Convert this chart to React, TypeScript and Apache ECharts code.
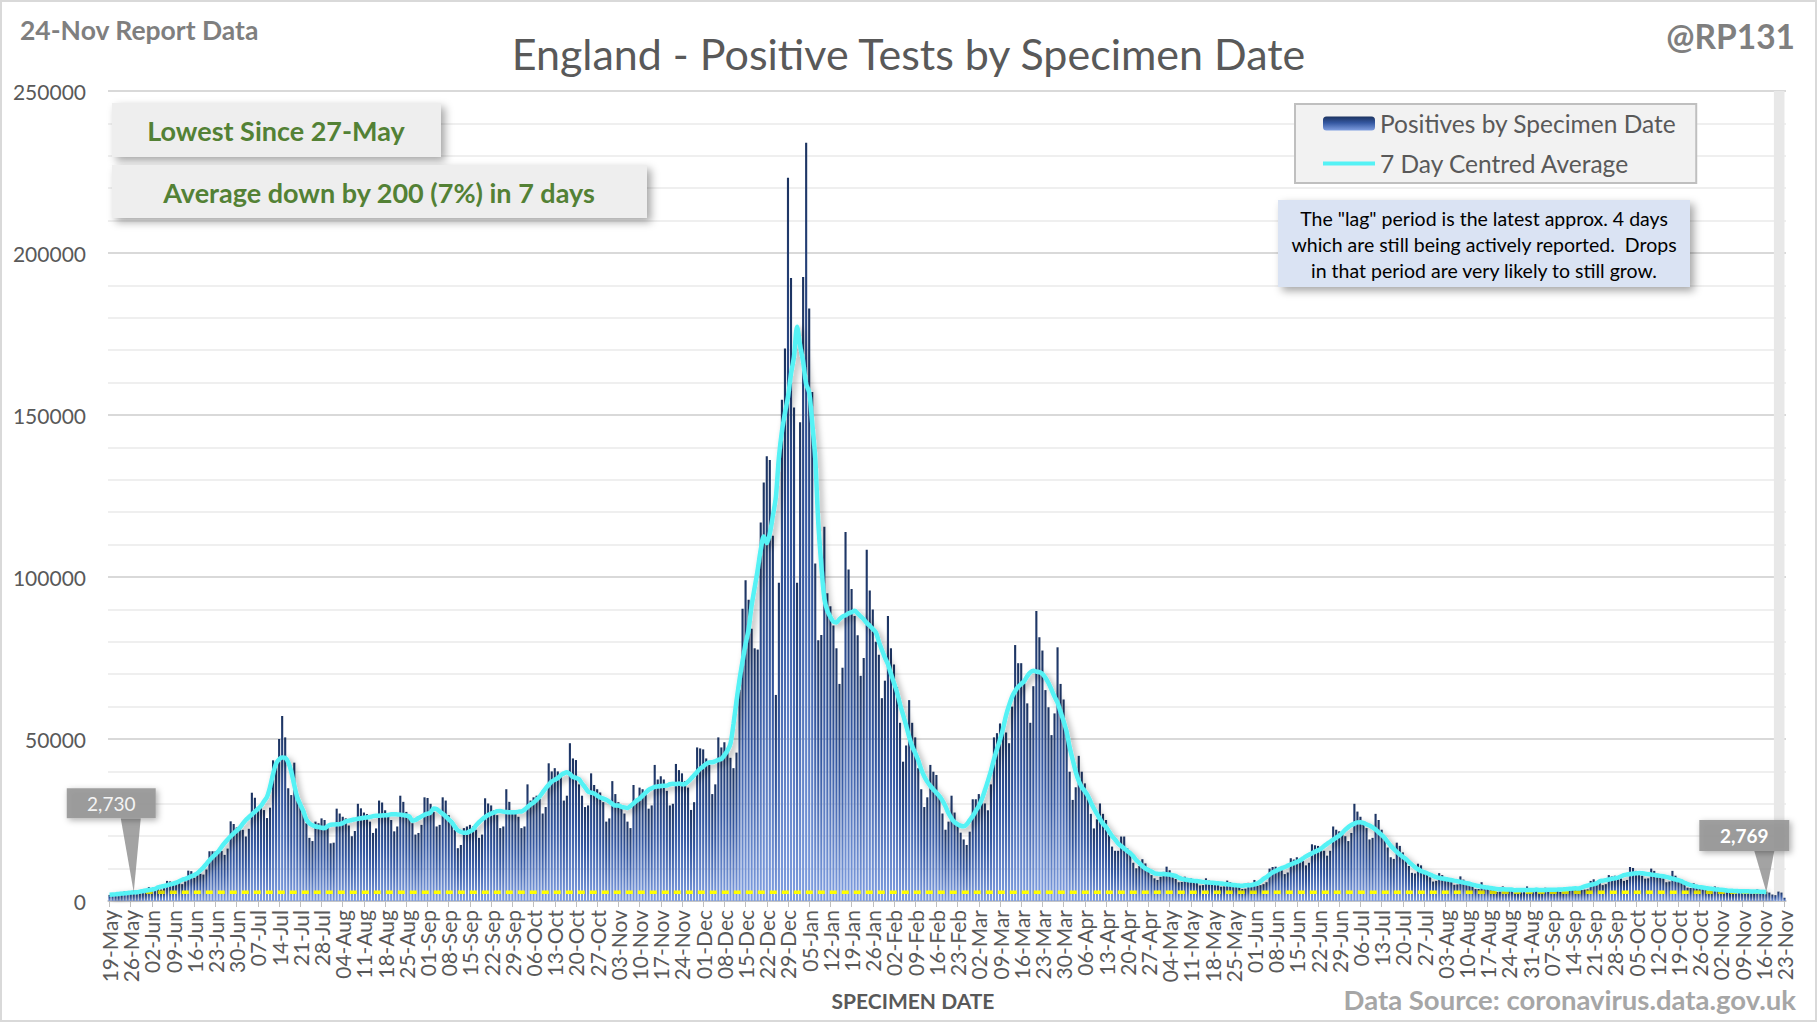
import React, { useEffect, useRef } from "react";
import * as echarts from "echarts";

// ---------- DATA ----------
const START_YEAR = 2021;
const START_MONTH = 4; // May (0-based)
const START_DAY = 19;
const MONTHS = ["Jan", "Feb", "Mar", "Apr", "May", "Jun", "Jul", "Aug", "Sep", "Oct", "Nov", "Dec"];

// 16-18 May 2021 (only used for the centred average of the first days)
const PRE_VALUES = [1700, 2300, 2200];

// Daily positives by specimen date, 19-May-2021 .. 23-Nov-2022 (weeks Wed..Tue)
const DAILY_POSITIVES = [
  1880, 1920, 1870, 1720, 1950, 3050, 2950,
  2500, 2620, 2600, 2420, 2880, 3000, 4300,
  3640, 3800, 3770, 3520, 4040, 6200, 6040,
  5120, 5450, 5500, 5200, 6040, 9370, 9210,
  7200, 8020, 8380, 8160, 9710, 15350, 15360,
  15350, 15770, 15440, 14240, 16180, 24590, 23760,
  22710, 22860, 21960, 19920, 22290, 33420, 31870,
  28580, 29000, 28060, 25600, 28810, 43420, 41630,
  50000, 57100, 50500, 34800, 32700, 42700, 32200,
  29600, 27600, 24000, 19500, 18500, 24500, 24000,
  25500, 25000, 23000, 17800, 18000, 28500, 27000,
  26000, 25500, 23300, 20000, 21600, 30000, 28600,
  27300, 26800, 24500, 21000, 22400, 31000, 30400,
  28000, 27000, 25000, 21500, 23000, 32500, 30600,
  27500, 26500, 24000, 20500, 21000, 23500, 32000,
  31800, 30000, 27500, 23000, 23500, 32000, 31000,
  26500, 25000, 22000, 16300, 17300, 22500, 23000,
  23500, 23000, 22000, 19500, 20500, 31700, 30100,
  29500, 28000, 26500, 22500, 23000, 34500, 30600,
  28000, 27000, 26000, 22500, 23000, 36000, 31000,
  32000, 32500, 31500, 27000, 29000, 42500, 40000,
  41000, 40000, 38500, 31000, 32500, 48700, 44000,
  43500, 36000, 32500, 29000, 29500, 39400, 35800,
  34500, 33500, 30500, 24500, 25500, 37000, 33000,
  30500, 29000, 27000, 24500, 22500, 35800, 31500,
  35000, 34500, 33000, 28500, 29500, 42000, 37500,
  38500, 37500, 34000, 29500, 30000, 42300, 40400,
  39400, 37000, 35000, 28100, 30500, 47400, 47100,
  46800, 44000, 42000, 33000, 36000, 50500, 47400,
  49000, 47000, 44200, 41000, 45800, 65200, 90200,
  99000, 93000, 84000, 78000, 77600, 116800, 129200,
  137300, 136100, 112700, 63600, 98200, 154700, 170500,
  223200, 192300, 152300, 98200, 147800, 192600, 234000,
  182900, 157100, 104200, 80500, 82100, 115500, 95000,
  91000, 85000, 78000, 67000, 72000, 113900, 102300,
  96300, 88000, 82000, 69500, 75000, 108400, 95800,
  90000, 80000, 76000, 62600, 68000, 88000, 78000,
  73000, 66000, 55000, 43000, 48000, 62000, 55000,
  50500, 41000, 34500, 29000, 32000, 42000, 39900,
  38900, 32200, 27000, 22000, 24500, 32500, 27300,
  24000, 21100, 19000, 17300, 21400, 31400, 31400,
  33000, 30100, 30100, 28000, 36000, 50500, 51800,
  54800, 55000, 52000, 48700, 60000, 79000, 73400,
  73400, 67200, 61000, 55000, 66300, 89500, 81400,
  77300, 65100, 59800, 51200, 57900, 78300, 67000,
  62200, 52000, 39900, 31200, 35100, 44800, 39900,
  36300, 32000, 26900, 22400, 25200, 30100, 26900,
  25000, 20400, 16800, 15500, 15500, 19900, 19900,
  16300, 14700, 11800, 10100, 10800, 12900, 11600,
  10200, 8000, 7000, 6500, 7500, 9000, 10600,
  9500, 8000, 6800, 5800, 5900, 7500, 7000,
  7000, 6500, 5800, 4800, 4900, 7000, 6300,
  6000, 5700, 5100, 4400, 4500, 6300, 5800,
  5200, 4900, 4300, 3700, 3800, 5600, 5300,
  6500, 4800, 4900, 5200, 5800, 10000, 10500,
  10600, 10200, 9500, 8300, 8800, 13200, 12800,
  13500, 13000, 12300, 11000, 11800, 17500, 17200,
  17000, 16500, 15500, 14000, 15500, 23000, 22000,
  21500, 21000, 20000, 18500, 21000, 30000, 27600,
  26000, 24200, 22500, 19000, 19500, 26900, 25000,
  22000, 19500, 16500, 13500, 13000, 18000, 17000,
  15000, 13000, 10800, 8700, 8500, 11500, 11000,
  9500, 8500, 7300, 6000, 6200, 8600, 8000,
  7100, 6700, 6000, 5000, 5100, 7600, 6600,
  5800, 5300, 4600, 3700, 3700, 5800, 4800,
  4400, 4000, 3500, 2800, 2900, 4500, 4000,
  3900, 3700, 3300, 2700, 2700, 3000, 4500,
  3900, 3600, 3200, 2600, 2700, 4100, 3800,
  3900, 3700, 3300, 2800, 2900, 4200, 4000,
  4300, 4200, 3900, 3400, 3500, 3600, 6200,
  6700, 6000, 5600, 4900, 5200, 8000, 7600,
  7800, 7500, 7000, 6200, 6500, 10500, 10200,
  9300, 8700, 7800, 6900, 7000, 10000, 9300,
  8400, 7800, 7000, 5800, 6000, 9300, 7800,
  6600, 6000, 5200, 4100, 4000, 5500, 5000,
  4600, 4200, 3700, 3000, 3100, 4500, 4100,
  3700, 3400, 3000, 2500, 2600, 3600, 3500,
  3300, 3100, 2700, 2300, 2300, 3600, 3400,
  3100, 2900, 2600, 2000, 1800, 2900, 2600,
  1000,
];

const AVG_WINDOW = 7;
const LAG_DAYS = 4;
const LAST_AVG_INDEX = 547; // 17-Nov-2022
const LOWEST_SINCE_INDEX = 8; // 27-May-2021
const LOWEST_SINCE_VALUE = 2730;
const LATEST_AVG_VALUE = 2769;
const LABEL_STEP = 7;
const Y_MAX = 250000;
const Y_INTERVAL = 50000;

const TITLE = "England - Positive Tests by Specimen Date";
const BAR_NAME = "Positives by Specimen Date";
const LINE_NAME = "7 Day Centred Average";

// ---------- derived ----------
const dateLabels = DAILY_POSITIVES.map((_, i) => {
  const d = new Date(Date.UTC(START_YEAR, START_MONTH, START_DAY + i));
  const dd = String(d.getUTCDate()).padStart(2, "0");
  return `${dd}-${MONTHS[d.getUTCMonth()]}`;
});

const allVals = [...PRE_VALUES, ...DAILY_POSITIVES];
const half = Math.floor(AVG_WINDOW / 2);
const centredAvg = DAILY_POSITIVES.map((_, i) => {
  if (i > LAST_AVG_INDEX) return null;
  const j = i + PRE_VALUES.length;
  let s = 0;
  for (let k = j - half; k <= j + half; k++) s += allVals[k];
  return Math.round(s / AVG_WINDOW);
});

const lowLine = DAILY_POSITIVES.map((_, i) =>
  i === LOWEST_SINCE_INDEX || i === LAST_AVG_INDEX ? LOWEST_SINCE_VALUE : null
);

const FONT = "Lato, 'Open Sans', sans-serif";
const CYAN = "#55f2f5";

export default function App() {
  const ref = useRef<HTMLDivElement>(null);

  useEffect(() => {
    if (!ref.current) return;
    const chart = echarts.init(ref.current, null, { renderer: "svg" });
    const n = DAILY_POSITIVES.length;

    const barGradient = new echarts.graphic.LinearGradient(0, 0, 0, 1, [
      { offset: 0, color: "#1c3360" },
      { offset: 0.45, color: "#3457a0" },
      { offset: 1, color: "#7f9ee0" },
    ]);

    chart.setOption({
      animation: false,
      backgroundColor: "#ffffff",
      textStyle: { fontFamily: FONT },
      title: {
        text: TITLE,
        left: "center",
        top: 27,
        textStyle: { fontFamily: FONT, fontSize: 43, fontWeight: "normal", color: "#595959" },
      },
      legend: {
        orient: "vertical",
        left: 1295,
        top: 104,
        backgroundColor: "#f2f2f2",
        borderColor: "#bfbfbf",
        borderWidth: 2,
        borderRadius: 0,
        padding: [7, 20, 7, 28],
        itemWidth: 52,
        itemHeight: 14,
        itemGap: 15,
        symbolKeepAspect: true,
        textStyle: { fontFamily: FONT, fontSize: 24.5, color: "#595959" },
        data: [
          { name: BAR_NAME },
          { name: LINE_NAME, icon: "path://M0,0 L52,0 L52,4 L0,4 Z", itemStyle: { color: CYAN } },
        ],
      },
      grid: { left: 108, top: 91, width: 1678, height: 810, containLabel: false },
      xAxis: {
        type: "category",
        data: dateLabels,
        boundaryGap: true,
        name: "SPECIMEN DATE",
        nameLocation: "middle",
        nameGap: 85,
        nameTextStyle: {
          fontFamily: FONT,
          fontSize: 21,
          fontWeight: "bold",
          color: "#595959",
          padding: [0, 68, 0, 0],
        },
        axisLine: { lineStyle: { color: "#bfbfbf", width: 1.5 } },
        axisTick: { show: true, interval: LABEL_STEP - 1, alignWithLabel: true, length: 6, lineStyle: { color: "#bfbfbf" } },
        axisLabel: {
          interval: LABEL_STEP - 1,
          rotate: 90,
          margin: 9,
          fontFamily: FONT,
          fontSize: 21,
          color: "#595959",
        },
        splitLine: { show: false },
      },
      yAxis: {
        type: "value",
        min: 0,
        max: Y_MAX,
        interval: Y_INTERVAL,
        axisLine: { show: false },
        axisTick: { show: false },
        axisLabel: {
          fontFamily: FONT,
          fontSize: 21,
          color: "#595959",
          margin: 22,
          formatter: (v: number) => String(v),
        },
        splitLine: { show: true, lineStyle: { color: "#d9d9d9", width: 2 } },
        minorTick: { show: false, splitNumber: 5 },
        minorSplitLine: { show: true, lineStyle: { color: "#efefef", width: 2 } },
      },
      series: [
        {
          name: BAR_NAME,
          type: "bar",
          data: DAILY_POSITIVES,
          barCategoryGap: "30%",
          itemStyle: { color: barGradient },
          z: 2,
          markArea: {
            silent: true,
            itemStyle: { color: "#e8e8e8" },
            data: [[{ xAxis: n - LAG_DAYS }, { xAxis: n - 1 }]],
          },
        },
        {
          name: "lowLine",
          type: "line",
          data: lowLine,
          connectNulls: true,
          symbol: "none",
          lineStyle: { color: "#ffff00", width: 3.5, type: [7, 5] },
          z: 4,
          silent: true,
        },
        {
          name: LINE_NAME,
          type: "line",
          data: centredAvg,
          smooth: 0.3,
          symbol: "none",
          lineStyle: {
            color: CYAN,
            width: 4.5,
            shadowColor: "rgba(0,0,0,0.35)",
            shadowBlur: 6,
            shadowOffsetX: 3,
            shadowOffsetY: 3,
          },
          itemStyle: { color: CYAN },
          z: 5,
        },
      ],
    });

    const tipL = chart.convertToPixel({ gridIndex: 0 }, [LOWEST_SINCE_INDEX, LOWEST_SINCE_VALUE]) as number[];
    const tipR = chart.convertToPixel({ gridIndex: 0 }, [LAST_AVG_INDEX, LATEST_AVG_VALUE]) as number[];

    const txt = (text: string, x: number, y: number, size: number, color: string, weight = "normal", align = "left", extra: any = {}) => ({
      type: "text",
      x,
      y,
      silent: true,
      style: {
        text,
        fill: color,
        fontSize: size,
        fontWeight: weight,
        fontFamily: FONT,
        align,
        textAlign: align,
        verticalAlign: "middle",
        textVerticalAlign: "middle",
        ...extra,
      },
      z: 100,
    });

    const boxShadow = { shadowColor: "rgba(0,0,0,0.35)", shadowBlur: 8, shadowOffsetX: 4, shadowOffsetY: 4 };

    chart.setOption({
      graphic: [
        {
          type: "rect",
          silent: true,
          shape: { x: 1, y: 1, width: 1815, height: 1020 },
          style: { fill: "none", stroke: "#d9d9d9", lineWidth: 2 },
          z: 100,
        },
        txt("24-Nov Report Data", 20, 30, 26.5, "#7f7f7f", "bold"),
        txt("@RP131", 1795, 36, 33.5, "#7f7f7f", "bold", "right"),
        txt("Data Source: coronavirus.data.gov.uk", 1796, 999, 27.5, "#a6a6a6", "bold", "right"),
        {
          type: "rect",
          silent: true,
          shape: { x: 112, y: 103, width: 329, height: 54 },
          style: { fill: "#eeeeee", ...boxShadow },
          z: 90,
        },
        txt("Lowest Since 27-May", 276, 130, 27, "#538135", "bold", "center"),
        {
          type: "rect",
          silent: true,
          shape: { x: 112, y: 165, width: 535, height: 53 },
          style: { fill: "#eeeeee", ...boxShadow },
          z: 90,
        },
        txt("Average down by 200 (7%) in 7 days", 379, 192, 27, "#538135", "bold", "center"),
        {
          type: "rect",
          silent: true,
          shape: { x: 1278, y: 200, width: 412, height: 87 },
          style: { fill: "#dae3f3", ...boxShadow },
          z: 90,
        },
        txt(
          'The "lag" period is the latest approx. 4 days\nwhich are still being actively reported.  Drops\nin that period are very likely to still grow.',
          1484,
          244,
          19.5,
          "#000000",
          "normal",
          "center",
          { lineHeight: 26 }
        ),
        // left callout
        {
          type: "polygon",
          silent: true,
          shape: { points: [[tipL[0] - 13, tipL[1] - 74], [tipL[0] + 7, tipL[1] - 74], [tipL[0], tipL[1]]] },
          style: { fill: "rgba(140,140,140,0.8)" },
          z: 95,
        },
        {
          type: "rect",
          silent: true,
          shape: { x: tipL[0] - 67, y: tipL[1] - 104, width: 89, height: 30 },
          style: { fill: "rgba(150,150,150,0.9)", ...boxShadow, shadowBlur: 6, shadowOffsetX: 2, shadowOffsetY: 2 },
          z: 96,
        },
        txt("2,730", tipL[0] - 22.5, tipL[1] - 89, 19, "#f4f4f4", "normal", "center"),
        // right callout
        {
          type: "polygon",
          silent: true,
          shape: { points: [[tipR[0] - 12, tipR[1] - 41], [tipR[0] + 8, tipR[1] - 41], [tipR[0], tipR[1]]] },
          style: { fill: "rgba(140,140,140,0.8)" },
          z: 95,
        },
        {
          type: "rect",
          silent: true,
          shape: { x: tipR[0] - 67, y: tipR[1] - 72, width: 90, height: 31 },
          style: { fill: "rgba(150,150,150,0.9)", ...boxShadow, shadowBlur: 6, shadowOffsetX: 2, shadowOffsetY: 2 },
          z: 96,
        },
        txt("2,769", tipR[0] - 22, tipR[1] - 56.5, 19, "#ffffff", "bold", "center"),
      ],
    });

    return () => chart.dispose();
  }, []);

  return (
    <div
      ref={ref}
      style={{ position: "fixed", left: 0, top: 0, width: 1817, height: 1022, background: "#ffffff" }}
    />
  );
}
